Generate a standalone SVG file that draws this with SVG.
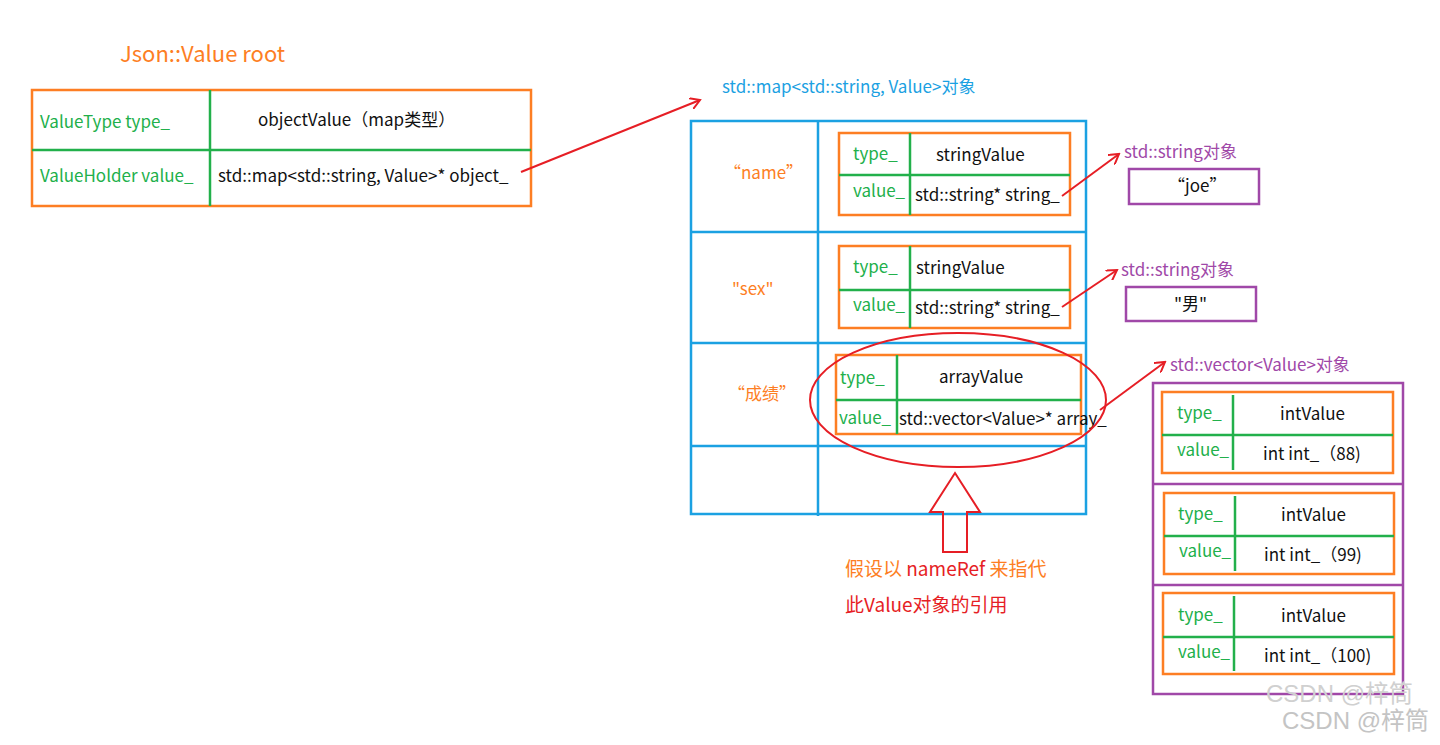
<svg xmlns="http://www.w3.org/2000/svg" width="1440" height="745" viewBox="0 0 1440 745">
<defs>
<style>
text{font-family:"Microsoft YaHei","Noto Sans CJK SC",sans-serif;font-size:17px}
.o{fill:none;stroke:#fd7e23;stroke-width:2.5}
.g{stroke:#22b04b;stroke-width:2.5}
.b{fill:none;stroke:#1ba1e2;stroke-width:2.5}
.p{fill:none;stroke:#a048a8;stroke-width:2.5}
.gt{fill:#22b04b}
.k{fill:#111}
.ot{fill:#fd7e23}
.pt{fill:#a048a8}
.r{stroke:#e61e25;stroke-width:2;fill:none}
</style>
<marker id="ah" markerWidth="12" markerHeight="12" refX="10" refY="6" orient="auto" markerUnits="userSpaceOnUse"><path d="M0,0 L10,6 L0,12" fill="none" stroke="#e61e25" stroke-width="2"/></marker>
</defs>
<rect width="1440" height="745" fill="#fff"/>
<g id="root">
<text x="120" y="62" class="ot" style="font-size:22px">Json::Value  root</text>
<rect x="32" y="90" width="499" height="116" class="o"/>
<line x1="32" y1="150" x2="531" y2="150" class="g"/>
<line x1="210" y1="90" x2="210" y2="206" class="g"/>
<text x="40" y="128" class="gt">ValueType type_</text>
<text x="40" y="182" class="gt">ValueHolder value_</text>
<text x="258" y="126" class="k">objectValue（map类型）</text>
<text x="218" y="182" class="k">std::map&lt;std::string, Value&gt;* object_</text>
</g>
<g id="map">
<text x="722" y="93" fill="#1ba1e2">std::map&lt;std::string, Value&gt;对象</text>
<rect x="691" y="121" width="395" height="393" class="b"/>
<line x1="818" y1="121" x2="818" y2="516" class="b"/>
<line x1="691" y1="232" x2="1086" y2="232" class="b"/>
<line x1="691" y1="343" x2="1086" y2="343" class="b"/>
<line x1="691" y1="446" x2="1086" y2="446" class="b"/>
<text x="724" y="179" class="ot">“name”</text>
<text x="732" y="295" class="ot">"sex"</text>
<text x="728" y="400" class="ot">“成绩”</text>
</g>
<g id="v1">
<rect x="839" y="133" width="231" height="82" class="o"/>
<line x1="839" y1="175" x2="1070" y2="175" class="g"/>
<line x1="910" y1="133" x2="910" y2="215" class="g"/>
<text x="853" y="160" class="gt">type_</text>
<text x="853" y="197" class="gt">value_</text>
<text x="936" y="161" class="k">stringValue</text>
<text x="915" y="201" class="k">std::string* string_</text>
</g>
<g id="v2">
<rect x="839" y="246" width="231" height="82" class="o"/>
<line x1="839" y1="290" x2="1070" y2="290" class="g"/>
<line x1="910" y1="246" x2="910" y2="328" class="g"/>
<text x="853" y="273" class="gt">type_</text>
<text x="853" y="311" class="gt">value_</text>
<text x="916" y="274" class="k">stringValue</text>
<text x="915" y="314" class="k">std::string* string_</text>
</g>
<g id="v3">
<rect x="836" y="355" width="245" height="79" class="o"/>
<line x1="836" y1="400" x2="1081" y2="400" class="g"/>
<line x1="897" y1="355" x2="897" y2="434" class="g"/>
<text x="840" y="384" class="gt">type_</text>
<text x="839" y="424" class="gt">value_</text>
<text x="939" y="383" class="k">arrayValue</text>
<text x="899" y="425" class="k">std::vector&lt;Value&gt;* array_</text>
<ellipse cx="958" cy="400" rx="148" ry="67" class="r"/>
</g>
<g id="s1">
<text x="1124" y="158" class="pt">std::string对象</text>
<rect x="1129" y="169" width="130" height="35" class="p"/>
<text x="1168" y="192" class="k">“joe”</text>
</g>
<g id="s2">
<text x="1121" y="276" class="pt">std::string对象</text>
<rect x="1126" y="287" width="130" height="34" class="p"/>
<text x="1174" y="310" class="k">"男"</text>
</g>
<g id="vec">
<text x="1170" y="371" class="pt">std::vector&lt;Value&gt;对象</text>
<rect x="1153" y="383" width="250" height="311" class="p"/>
<line x1="1153" y1="484" x2="1403" y2="484" class="p"/>
<line x1="1153" y1="585" x2="1403" y2="585" class="p"/>
</g>
<g id="i1">
<rect x="1162" y="392" width="231" height="81" class="o"/>
<line x1="1162" y1="435" x2="1393" y2="435" class="g"/>
<line x1="1233" y1="395" x2="1233" y2="470" class="g"/>
<text x="1177" y="419" class="gt">type_</text>
<text x="1177" y="456" class="gt">value_</text>
<text x="1280" y="420" class="k">intValue</text>
<text x="1263" y="460" class="k">int int_（88)</text>
</g>
<g id="i2">
<rect x="1164" y="493" width="230" height="81" class="o"/>
<line x1="1164" y1="536" x2="1394" y2="536" class="g"/>
<line x1="1235" y1="496" x2="1235" y2="571" class="g"/>
<text x="1178" y="520" class="gt">type_</text>
<text x="1179" y="557" class="gt">value_</text>
<text x="1281" y="521" class="k">intValue</text>
<text x="1264" y="561" class="k">int int_（99)</text>
</g>
<g id="i3">
<rect x="1163" y="593" width="231" height="81" class="o"/>
<line x1="1163" y1="637" x2="1394" y2="637" class="g"/>
<line x1="1234" y1="596" x2="1234" y2="671" class="g"/>
<text x="1178" y="621" class="gt">type_</text>
<text x="1178" y="658" class="gt">value_</text>
<text x="1281" y="622" class="k">intValue</text>
<text x="1264" y="662" class="k">int int_（100)</text>
</g>
<g id="note">
<path d="M955,473 L980,512 L967,512 L967,552 L943,552 L943,512 L930,512 Z" class="r" stroke-width="3"/>
<text x="845" y="576" style="font-size:19px" class="ot">假设以 <tspan fill="#e61e25">nameRef</tspan> 来指代</text>
<text x="845" y="612" style="font-size:19px" fill="#e61e25">此Value对象的引用</text>
</g>
<g id="connectors">
<line x1="521" y1="172" x2="700" y2="100" class="r" marker-end="url(#ah)"/>
<line x1="1062" y1="196" x2="1119" y2="154" class="r" marker-end="url(#ah)"/>
<line x1="1062" y1="307" x2="1117" y2="270" class="r" marker-end="url(#ah)"/>
<line x1="1100" y1="410" x2="1165" y2="362" class="r" marker-end="url(#ah)"/>
</g>
<g id="watermark" fill="#c8c8c8" style="font-size:24px">
<text x="1266" y="702" style="font-family:'Liberation Sans','Noto Sans CJK SC',sans-serif;font-size:24px;fill:#d0d0d0">CSDN @梓筒</text>
<text x="1282" y="729" style="font-family:'Liberation Sans','Noto Sans CJK SC',sans-serif;font-size:24px;fill:#c4c4c4">CSDN @梓筒</text>
</g>
</svg>
